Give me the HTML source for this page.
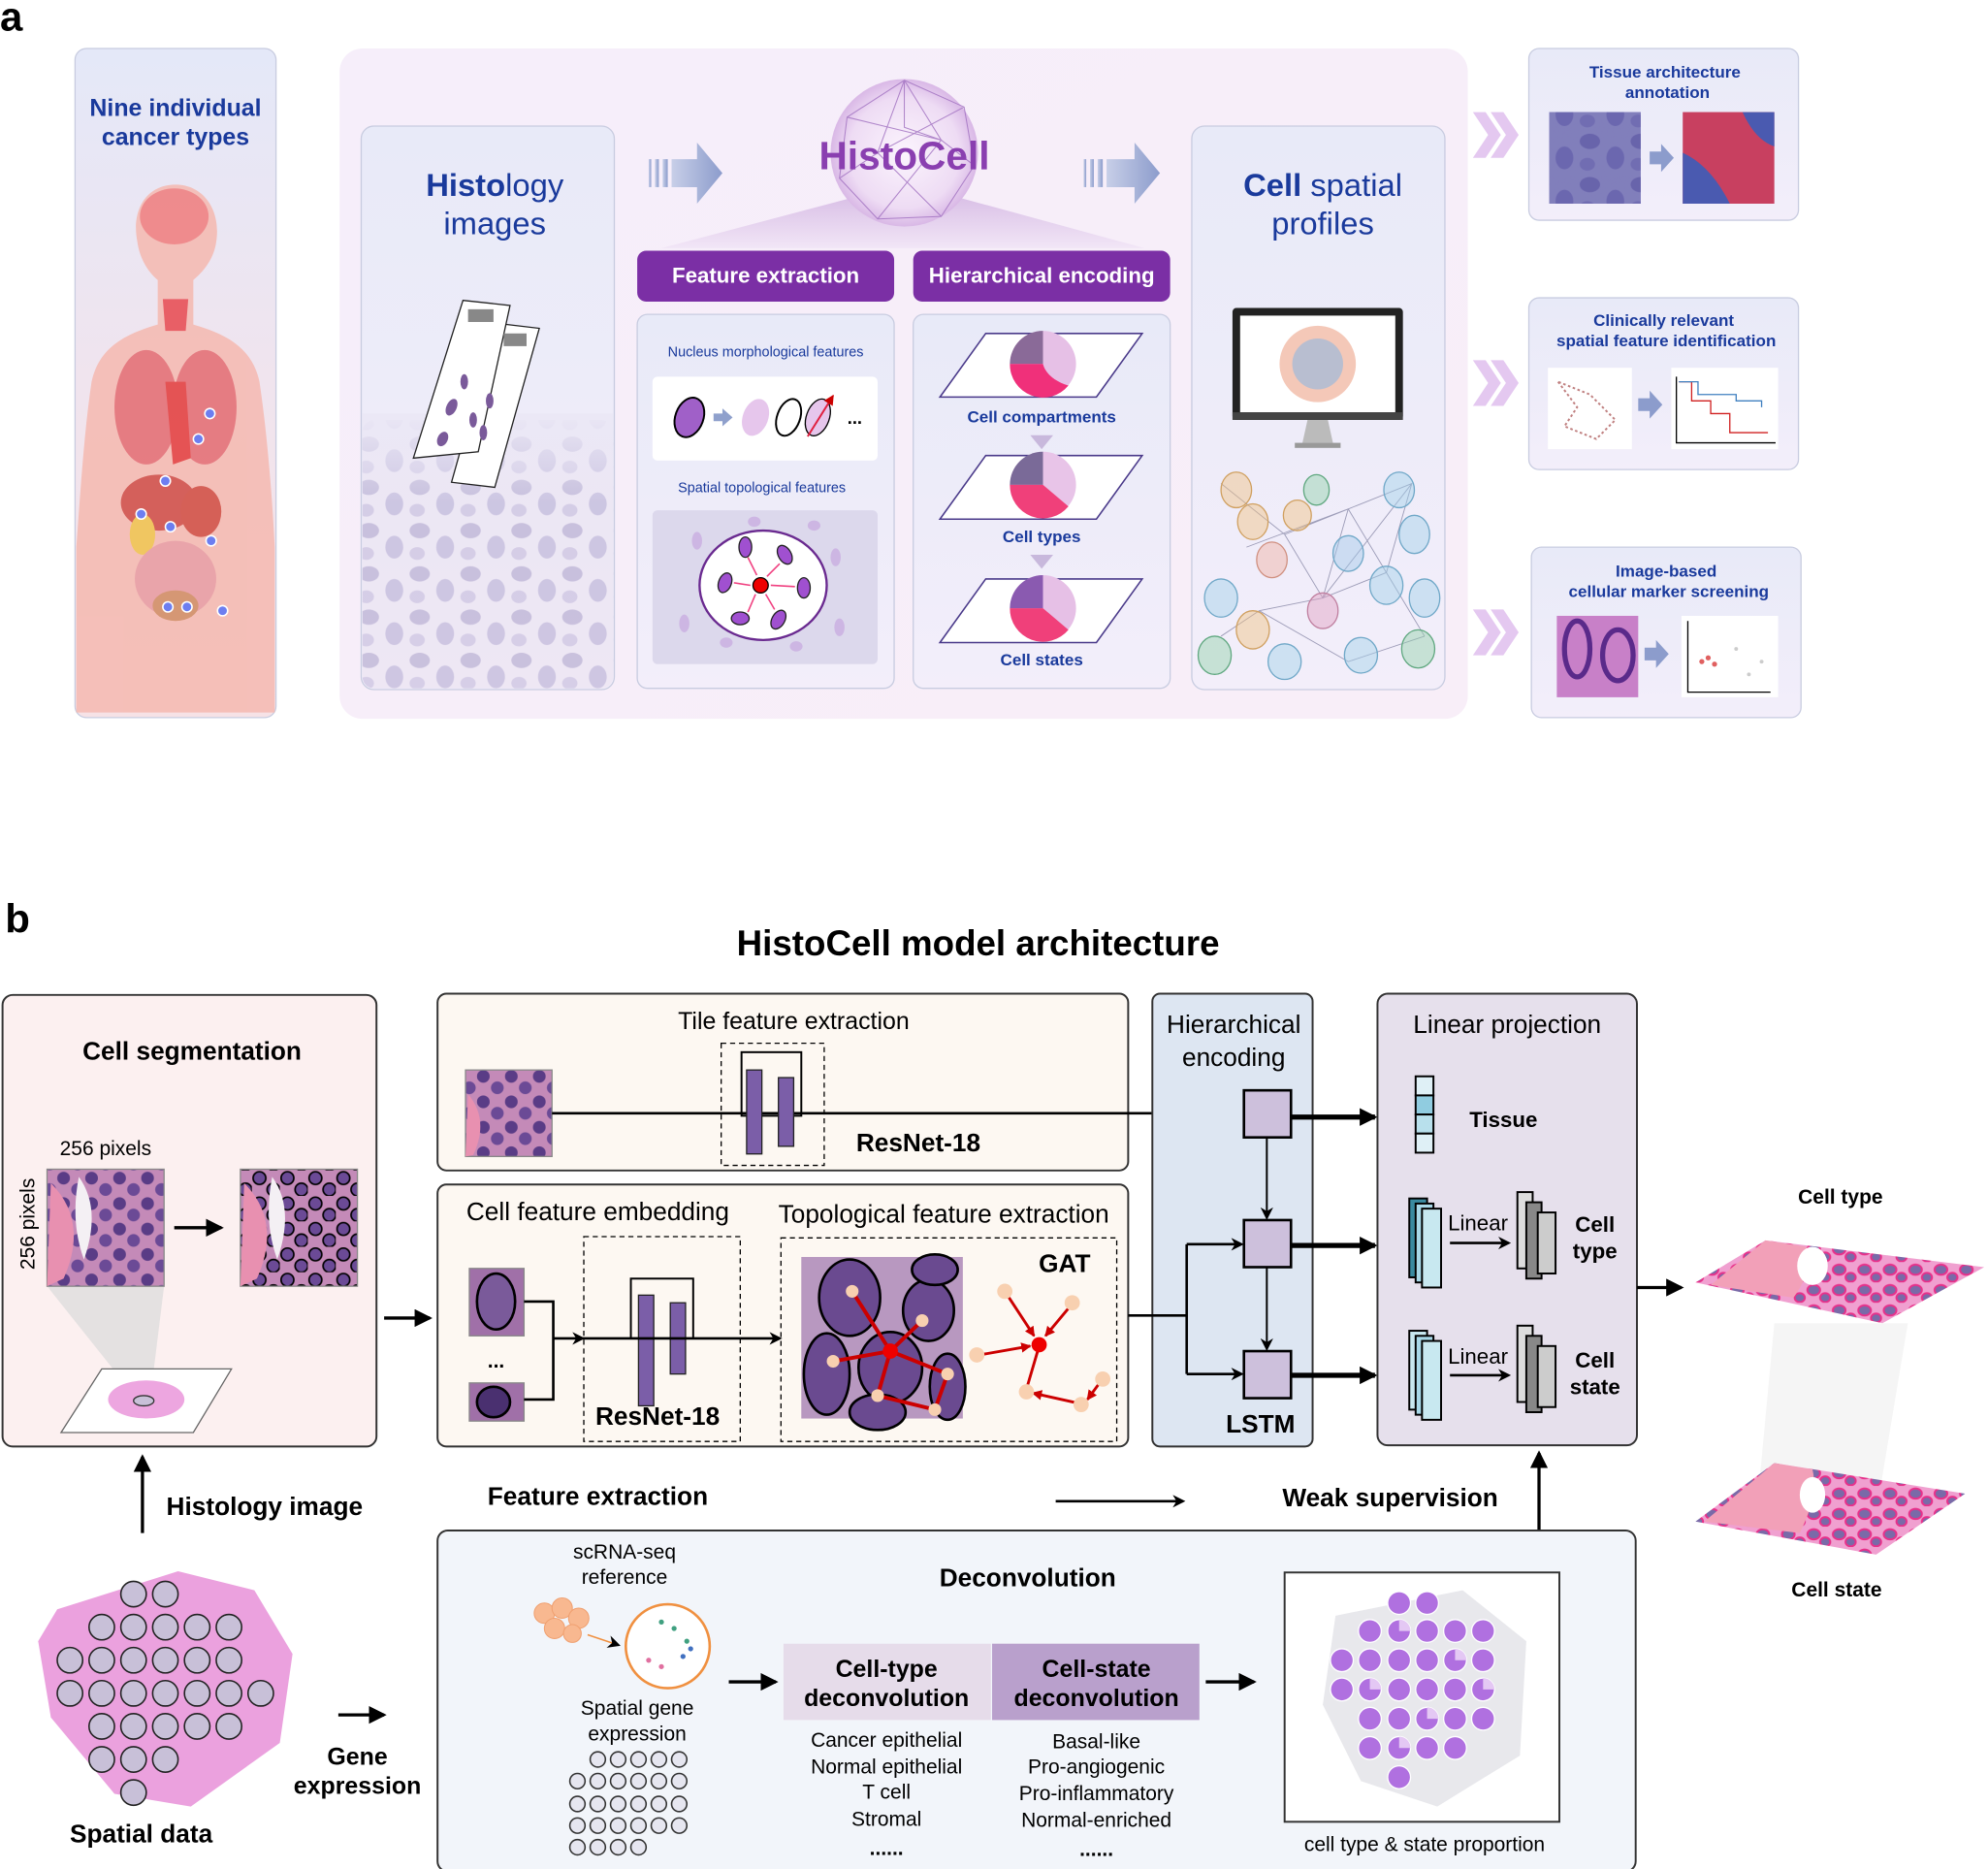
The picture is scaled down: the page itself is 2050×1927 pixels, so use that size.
<!DOCTYPE html>
<html><head><meta charset="utf-8"><style>
html,body{margin:0;padding:0;background:#fff;}
svg{display:block;font-family:"Liberation Sans",Arial,sans-serif;}
</style></head><body>
<svg width="2050" height="1927" viewBox="0 0 1563 1469" xmlns="http://www.w3.org/2000/svg">
<defs>
<linearGradient id="gBody" x1="0" y1="0" x2="0" y2="1"><stop offset="0" stop-color="#e4e8f8"/><stop offset="0.5" stop-color="#f0e4ee"/><stop offset="1" stop-color="#f6e2e6"/></linearGradient>
<linearGradient id="gBig" x1="0" y1="0" x2="1" y2="1"><stop offset="0" stop-color="#f6eefa"/><stop offset="1" stop-color="#f8eef8"/></linearGradient>
<linearGradient id="gCard" x1="0" y1="0" x2="0" y2="1"><stop offset="0" stop-color="#e8eaf8"/><stop offset="1" stop-color="#f3eefa"/></linearGradient>
<linearGradient id="gFade" x1="0" y1="0" x2="0" y2="1"><stop offset="0" stop-color="#ebe8f6" stop-opacity="1"/><stop offset="1" stop-color="#ebe8f6" stop-opacity="0"/></linearGradient>
<linearGradient id="gArrow" x1="0" y1="0" x2="1" y2="0"><stop offset="0" stop-color="#c8cfe8"/><stop offset="1" stop-color="#8c9ccc"/></linearGradient>
<radialGradient id="gSphere"><stop offset="0" stop-color="#fbf4fd"/><stop offset="0.75" stop-color="#eedcf4"/><stop offset="1" stop-color="#d9b8e6"/></radialGradient>
<linearGradient id="gTri" x1="0" y1="0" x2="0" y2="1"><stop offset="0" stop-color="#c9a6dc"/><stop offset="1" stop-color="#efe2f5"/></linearGradient>
<pattern id="pHist" width="40" height="34" patternUnits="userSpaceOnUse">
<rect width="40" height="34" fill="#e8e0ee"/>
<ellipse cx="10" cy="9" rx="8" ry="6" fill="#8d7fb4" opacity="0.8"/>
<ellipse cx="30" cy="22" rx="7" ry="9" fill="#9a8dc0" opacity="0.8"/>
<ellipse cx="8" cy="27" rx="6" ry="5" fill="#a597c8" opacity="0.7"/>
</pattern>
<pattern id="pHE" width="22" height="20" patternUnits="userSpaceOnUse">
<rect width="22" height="20" fill="#c48ab8"/>
<ellipse cx="6" cy="6" rx="5" ry="5" fill="#5a3c86"/>
<ellipse cx="17" cy="15" rx="5" ry="5" fill="#6b4a96"/>
</pattern>
<pattern id="pHEo" width="22" height="20" patternUnits="userSpaceOnUse">
<rect width="22" height="20" fill="#c48ab8"/>
<ellipse cx="6" cy="6" rx="5" ry="5" fill="#6b4a96" stroke="#000" stroke-width="1.3"/>
<ellipse cx="17" cy="15" rx="5" ry="5" fill="#6b4a96" stroke="#000" stroke-width="1.3"/>
</pattern>
<pattern id="pPink" width="20" height="16" patternUnits="userSpaceOnUse">
<rect width="20" height="16" fill="#f0a0d0"/>
<ellipse cx="6" cy="6" rx="5" ry="4" fill="#7a6aa8" stroke="#e8308a" stroke-width="1.5"/>
<ellipse cx="15" cy="12" rx="4" ry="3.5" fill="#7a6aa8" stroke="#e8308a" stroke-width="1.5"/>
</pattern>
<marker id="ah" markerWidth="10" markerHeight="10" refX="8" refY="5" orient="auto" markerUnits="userSpaceOnUse"><path d="M0,0 L10,5 L0,10 L3,5 Z" fill="#000"/></marker>
<marker id="ahb" markerWidth="14" markerHeight="14" refX="12" refY="7" orient="auto" markerUnits="userSpaceOnUse"><path d="M0,0 L14,7 L0,14 Z" fill="#000"/></marker>
<marker id="ahr" markerWidth="8" markerHeight="8" refX="7" refY="4" orient="auto" markerUnits="userSpaceOnUse"><path d="M0,0 L8,4 L0,8 Z" fill="#c00"/></marker>
</defs>

<!-- ========== PANEL A ========== -->
<text x="0" y="24" font-size="32" font-weight="bold">a</text>

<rect x="59" y="38" width="158" height="526" rx="9" fill="url(#gBody)" stroke="#c8cce0"/>
<text x="138" y="91" font-size="19" fill="#1a3a9c" text-anchor="middle" font-weight="bold">Nine individual</text>
<text x="138" y="114" font-size="19" fill="#1a3a9c" text-anchor="middle" font-weight="bold">cancer types</text>
<g opacity="0.85">
<path d="M138,145 C115,145 103,165 108,190 C110,205 118,215 124,220 L124,255 C100,262 78,272 72,300 C66,340 63,390 60,430 L60,560 L216,560 L216,430 C214,390 210,340 204,300 C198,272 176,262 152,255 L152,220 C158,215 168,205 170,190 C174,165 160,145 138,145 Z" fill="#f5b9b0"/>
<ellipse cx="137" cy="170" rx="27" ry="22" fill="#f07c7c"/>
<path d="M128,235 L148,235 L146,260 L130,260 Z" fill="#e8484e"/>
<ellipse cx="115" cy="320" rx="25" ry="45" fill="#e46a70"/>
<ellipse cx="161" cy="320" rx="25" ry="45" fill="#e46a70"/>
<path d="M130,300 L146,300 L150,360 L136,365 Z" fill="#e33a3a"/>
<ellipse cx="125" cy="395" rx="30" ry="22" fill="#cf4a42"/>
<ellipse cx="158" cy="402" rx="16" ry="20" fill="#d04a3e"/>
<ellipse cx="112" cy="420" rx="10" ry="16" fill="#f0c24a"/>
<ellipse cx="138" cy="455" rx="32" ry="30" fill="#e89aa0"/>
<ellipse cx="138" cy="476" rx="18" ry="12" fill="#d08a60"/>
</g>
<g fill="#6d7ef0" stroke="#fff" stroke-width="1.2">
<circle cx="165" cy="325" r="4"/><circle cx="156" cy="345" r="4"/><circle cx="130" cy="378" r="4"/><circle cx="111" cy="404" r="4"/><circle cx="134" cy="414" r="4"/><circle cx="166" cy="425" r="4"/><circle cx="132" cy="477" r="4"/><circle cx="147" cy="477" r="4"/><circle cx="175" cy="480" r="4"/>
</g>

<rect x="267" y="38" width="887" height="527" rx="18" fill="url(#gBig)"/>

<!-- histology box -->
<rect x="284" y="99" width="199" height="443" rx="10" fill="url(#gCard)" stroke="#c8cce0"/>
<rect x="285" y="330" width="197" height="211" rx="9" fill="url(#pHist)" opacity="0.5"/>
<rect x="285" y="325" width="197" height="70" fill="url(#gFade)"/>
<text x="389" y="154" font-size="25" fill="#1a3a9c" text-anchor="middle"><tspan font-weight="bold">Histo</tspan>logy</text>
<text x="389" y="184" font-size="25" fill="#1a3a9c" text-anchor="middle">images</text>
<g stroke="#222" stroke-width="1">
<path d="M390,254 L424,258 L389,383 L355,379 Z" fill="#fff"/>
<path d="M364,236 L401,240 L376,355 L325,360 Z" fill="#fff"/>
<rect x="368" y="243" width="20" height="10" fill="#888" stroke="none"/>
<rect x="396" y="262" width="18" height="10" fill="#888" stroke="none"/>
</g>
<g fill="#7a5a9a"><ellipse cx="355" cy="320" rx="4" ry="7" transform="rotate(25 355 320)"/><ellipse cx="365" cy="300" rx="3" ry="6"/><ellipse cx="348" cy="345" rx="4" ry="6" transform="rotate(25 348 345)"/><ellipse cx="372" cy="330" rx="3" ry="6"/><ellipse cx="385" cy="315" rx="3" ry="6"/><ellipse cx="380" cy="340" rx="3" ry="6"/></g>

<g fill="url(#gArrow)"><rect x="510" y="125" width="2" height="22"/><rect x="515" y="125" width="3" height="22"/><rect x="521" y="125" width="4" height="22"/><path d="M528,125 L548,125 L548,112 L568,136 L548,160 L548,147 L528,147 Z"/></g>
<g fill="url(#gArrow)"><rect x="852" y="125" width="2" height="22"/><rect x="857" y="125" width="3" height="22"/><rect x="863" y="125" width="4" height="22"/><path d="M870,125 L892,125 L892,112 L912,136 L892,160 L892,147 L870,147 Z"/></g>

<path d="M690,150 L520,195 L900,195 L735,150 Z" fill="url(#gTri)" opacity="0.7"/>
<circle cx="711" cy="120" r="58" fill="url(#gSphere)"/>
<g stroke="#a070c0" stroke-width="0.8" fill="none" opacity="0.8">
<path d="M711,63 L666,92 L660,140 L690,172 L740,170 L766,130 L758,84 Z"/>
<path d="M711,63 L690,120 L740,170 M666,92 L740,110 L690,172 M758,84 L690,120 L660,140 M711,63 L740,110 L766,130 M711,63 L711,100 L740,110"/>
</g>
<text x="711" y="133" font-size="31" font-weight="bold" fill="#8a3fb0" text-anchor="middle">HistoCell</text>

<rect x="501" y="197" width="202" height="40" rx="7" fill="#7b2fa5"/>
<text x="602" y="222" font-size="17" font-weight="bold" fill="#fff" text-anchor="middle">Feature extraction</text>
<rect x="718" y="197" width="202" height="40" rx="7" fill="#7b2fa5"/>
<text x="819" y="222" font-size="17" font-weight="bold" fill="#fff" text-anchor="middle">Hierarchical encoding</text>

<rect x="501" y="247" width="202" height="294" rx="8" fill="url(#gCard)" stroke="#c8cce0"/>
<text x="602" y="280" font-size="11" fill="#1a3a9c" text-anchor="middle">Nucleus morphological features</text>
<rect x="513" y="296" width="177" height="66" rx="4" fill="#fff"/>
<ellipse cx="542" cy="328" rx="11" ry="16" fill="#a060c8" stroke="#000" stroke-width="1.5" transform="rotate(20 542 328)"/>
<path d="M561,325 L568,325 L568,321 L576,328 L568,335 L568,331 L561,331 Z" fill="#8fa0cc"/>
<ellipse cx="594" cy="328" rx="10" ry="15" fill="#e6c6ec" transform="rotate(20 594 328)"/>
<ellipse cx="620" cy="328" rx="9" ry="15" fill="none" stroke="#000" stroke-width="1.5" transform="rotate(20 620 328)"/>
<ellipse cx="643" cy="328" rx="9" ry="15" fill="#e6c6ec" stroke="#000" stroke-width="1" transform="rotate(20 643 328)"/>
<line x1="635" y1="343" x2="655" y2="311" stroke="#e02040" stroke-width="1.5" marker-end="url(#ahr)"/>
<text x="672" y="333" font-size="14" font-weight="bold" text-anchor="middle">...</text>
<text x="599" y="387" font-size="11" fill="#1a3a9c" text-anchor="middle">Spatial topological features</text>
<rect x="513" y="401" width="177" height="121" rx="4" fill="#dcd8ec"/>
<ellipse cx="600" cy="460" rx="50" ry="43" fill="#fff" stroke="#6a2a90" stroke-width="1.8"/>
<g fill="#c8a8e0" opacity="0.7"><ellipse cx="548" cy="425" rx="4" ry="7"/><ellipse cx="657" cy="438" rx="4" ry="7"/><ellipse cx="538" cy="490" rx="4" ry="7"/><ellipse cx="660" cy="493" rx="4" ry="7"/><ellipse cx="571" cy="505" rx="5" ry="4"/><ellipse cx="626" cy="508" rx="5" ry="4"/><ellipse cx="593" cy="410" rx="5" ry="4"/><ellipse cx="640" cy="413" rx="5" ry="4"/></g>
<g fill="#a050d0" stroke="#222" stroke-width="1"><ellipse cx="586" cy="430" rx="5" ry="8"/><ellipse cx="617" cy="436" rx="5" ry="8" transform="rotate(-30 617 436)"/><ellipse cx="570" cy="458" rx="5" ry="8" transform="rotate(20 570 458)"/><ellipse cx="632" cy="462" rx="5" ry="8"/><ellipse cx="582" cy="486" rx="7" ry="5"/><ellipse cx="612" cy="487" rx="5" ry="8" transform="rotate(30 612 487)"/></g>
<circle cx="598" cy="460" r="6" fill="#e00" stroke="#000"/>
<g stroke="#f04080" stroke-width="1.2"><line x1="588" y1="438" x2="595" y2="452"/><line x1="613" y1="443" x2="603" y2="453"/><line x1="577" y1="458" x2="590" y2="460"/><line x1="625" y1="461" x2="606" y2="460"/><line x1="588" y1="481" x2="594" y2="467"/><line x1="609" y1="479" x2="602" y2="467"/></g>

<rect x="718" y="247" width="202" height="294" rx="8" fill="url(#gCard)" stroke="#c8cce0"/>
<g fill="#fff" stroke="#4a3a8a" stroke-width="1.2">
<path d="M775,262 L898,262 L862,312 L739,312 Z"/>
<path d="M775,358 L898,358 L862,408 L739,408 Z"/>
<path d="M775,455 L898,455 L862,505 L739,505 Z"/>
</g>
<circle cx="820" cy="286" r="26" fill="#e6c0e6"/>
<path d="M820,260 A26,26 0 0 0 794,286 L820,286 Z" fill="#8a6a98"/>
<path d="M794,286 A26,26 0 0 0 840,303 C830,300 822,294 820,286 Z" fill="#f0307a"/>
<circle cx="820" cy="381" r="26" fill="#e8c4e8"/>
<path d="M820,355 A26,26 0 0 0 794,381 L820,381 Z" fill="#7a6a98"/>
<path d="M794,381 A26,26 0 0 0 840,398 L820,381 Z" fill="#f0407a"/>
<circle cx="820" cy="478" r="26" fill="#e6c0e6"/>
<path d="M820,452 A26,26 0 0 0 794,478 L820,478 Z" fill="#8a5ab0"/>
<path d="M794,478 A26,26 0 0 0 840,495 L820,478 Z" fill="#f0407a"/>
<text x="819" y="332" font-size="13" fill="#1a3a9c" text-anchor="middle" font-weight="bold">Cell compartments</text>
<path d="M810,342 L828,342 L819,353 Z" fill="#c8b8dc"/>
<text x="819" y="426" font-size="13" fill="#1a3a9c" text-anchor="middle" font-weight="bold">Cell types</text>
<path d="M810,436 L828,436 L819,447 Z" fill="#c8b8dc"/>
<text x="819" y="523" font-size="13" fill="#1a3a9c" text-anchor="middle" font-weight="bold">Cell states</text>

<rect x="937" y="99" width="199" height="443" rx="10" fill="url(#gCard)" stroke="#c8cce0"/>
<text x="1040" y="154" font-size="25" fill="#1a3a9c" text-anchor="middle"><tspan font-weight="bold">Cell</tspan> spatial</text>
<text x="1040" y="184" font-size="25" fill="#1a3a9c" text-anchor="middle">profiles</text>
<rect x="969" y="242" width="134" height="88" rx="3" fill="#222"/>
<rect x="975" y="248" width="122" height="76" fill="#fff"/>
<circle cx="1036" cy="286" r="30" fill="#f4c8b8"/>
<circle cx="1036" cy="286" r="20" fill="#90b8e0" opacity="0.6"/>
<rect x="969" y="324" width="134" height="6" fill="#444"/>
<path d="M1028,330 L1044,330 L1048,348 L1024,348 Z" fill="#bbb"/>
<rect x="1018" y="348" width="36" height="4" fill="#999"/>
<g stroke="#8888a8" stroke-width="0.7" opacity="0.8" fill="none">
<path d="M960,380 L1010,420 L1060,400 L1110,380 L1090,450 L1040,470 L990,480 L960,500 M1010,420 L1040,470 L1110,380 M1060,400 L1090,450 L1120,500 M990,480 L1060,520 L1120,500 M980,430 L1060,400 L1040,470"/>
</g>
<g fill-opacity="0.45" stroke-width="1">
<ellipse cx="972" cy="385" rx="12" ry="14" fill="#f0c080" stroke="#d0a060"/>
<ellipse cx="985" cy="410" rx="12" ry="14" fill="#f0c080" stroke="#d0a060"/>
<ellipse cx="1000" cy="440" rx="12" ry="14" fill="#f0b0a0" stroke="#d09080"/>
<ellipse cx="1035" cy="385" rx="10" ry="12" fill="#90d0a8" stroke="#60a880"/>
<ellipse cx="1100" cy="385" rx="12" ry="14" fill="#a0d0e8" stroke="#70a8c8"/>
<ellipse cx="1112" cy="420" rx="12" ry="15" fill="#a0d0e8" stroke="#70a8c8"/>
<ellipse cx="1090" cy="460" rx="13" ry="15" fill="#a0d0e8" stroke="#70a8c8"/>
<ellipse cx="1060" cy="435" rx="12" ry="14" fill="#a0c8e8" stroke="#70a8c8"/>
<ellipse cx="1040" cy="480" rx="12" ry="14" fill="#e0a0c0" stroke="#c080a0"/>
<ellipse cx="960" cy="470" rx="13" ry="15" fill="#a0d0e8" stroke="#70a8c8"/>
<ellipse cx="985" cy="495" rx="13" ry="15" fill="#f0c080" stroke="#d0a060"/>
<ellipse cx="955" cy="515" rx="13" ry="15" fill="#90d0a8" stroke="#60a880"/>
<ellipse cx="1010" cy="520" rx="13" ry="14" fill="#a0d0e8" stroke="#70a8c8"/>
<ellipse cx="1070" cy="515" rx="13" ry="14" fill="#a0d0e8" stroke="#70a8c8"/>
<ellipse cx="1115" cy="510" rx="13" ry="15" fill="#90d0a8" stroke="#60a880"/>
<ellipse cx="1120" cy="470" rx="12" ry="15" fill="#a0d0e8" stroke="#70a8c8"/>
<ellipse cx="1020" cy="405" rx="11" ry="12" fill="#f0c080" stroke="#d0a060"/>
</g>

<g fill="#e4c8f0">
<path d="M1158,88 L1168,88 L1180,106 L1168,124 L1158,124 L1170,106 Z"/><path d="M1172,88 L1182,88 L1194,106 L1182,124 L1172,124 L1184,106 Z"/>
<path d="M1158,283 L1168,283 L1180,301 L1168,319 L1158,319 L1170,301 Z"/><path d="M1172,283 L1182,283 L1194,301 L1182,319 L1172,319 L1184,301 Z"/>
<path d="M1158,479 L1168,479 L1180,497 L1168,515 L1158,515 L1170,497 Z"/><path d="M1172,479 L1182,479 L1194,497 L1182,515 L1172,515 L1184,497 Z"/>
</g>

<rect x="1202" y="38" width="212" height="135" rx="8" fill="url(#gCard)" stroke="#c8cce0"/>
<text x="1309" y="61" font-size="13" fill="#1a3a9c" text-anchor="middle" font-weight="bold">Tissue architecture</text>
<text x="1311" y="77" font-size="13" fill="#1a3a9c" text-anchor="middle" font-weight="bold">annotation</text>
<rect x="1218" y="88" width="72" height="72" fill="#4a4aa0"/>
<rect x="1218" y="88" width="72" height="72" fill="url(#pHist)" opacity="0.35"/>
<path d="M1297,119 L1306,119 L1306,113 L1316,124 L1306,135 L1306,129 L1297,129 Z" fill="#8c9ccc"/>
<rect x="1323" y="88" width="72" height="72" fill="#c84060"/>
<path d="M1323,120 Q1345,130 1360,160 L1323,160 Z M1370,88 Q1380,110 1395,115 L1395,88 Z" fill="#4a5ab0"/>
<rect x="1202" y="234" width="212" height="135" rx="8" fill="url(#gCard)" stroke="#c8cce0"/>
<text x="1308" y="256" font-size="13" fill="#1a3a9c" text-anchor="middle" font-weight="bold">Clinically relevant</text>
<text x="1310" y="272" font-size="13" fill="#1a3a9c" text-anchor="middle" font-weight="bold">spatial feature identification</text>
<rect x="1217" y="289" width="66" height="64" fill="#fff"/>
<path d="M1225,300 L1240,320 L1230,335 L1255,345 L1270,330 L1250,310 Z" fill="none" stroke="#c08080" stroke-width="1.5" stroke-dasharray="2 2"/>
<path d="M1288,313 L1297,313 L1297,307 L1307,318 L1297,329 L1297,323 L1288,323 Z" fill="#8c9ccc"/>
<rect x="1314" y="289" width="84" height="64" fill="#fff"/>
<path d="M1318,296 L1318,348 L1396,348" stroke="#000" fill="none"/>
<path d="M1320,300 L1330,300 L1330,315 L1345,315 L1345,325 L1360,325 L1360,340 L1390,340" stroke="#d02020" fill="none"/>
<path d="M1320,300 L1335,300 L1335,310 L1365,310 L1365,315 L1385,315 L1385,320" stroke="#4080c0" fill="none"/>
<rect x="1204" y="430" width="212" height="134" rx="8" fill="url(#gCard)" stroke="#c8cce0"/>
<text x="1310" y="453" font-size="13" fill="#1a3a9c" text-anchor="middle" font-weight="bold">Image-based</text>
<text x="1312" y="469" font-size="13" fill="#1a3a9c" text-anchor="middle" font-weight="bold">cellular marker screening</text>
<rect x="1224" y="484" width="64" height="64" fill="#c880c8"/>
<ellipse cx="1240" cy="510" rx="10" ry="22" fill="none" stroke="#5a2a8a" stroke-width="4"/>
<ellipse cx="1272" cy="515" rx="12" ry="20" fill="none" stroke="#5a2a8a" stroke-width="4"/>
<path d="M1293,509 L1302,509 L1302,503 L1312,514 L1302,525 L1302,519 L1293,519 Z" fill="#8c9ccc"/>
<rect x="1322" y="484" width="76" height="64" fill="#fff"/>
<path d="M1327,488 L1327,544 L1392,544" stroke="#000" fill="none"/>
<g fill="#e06060"><circle cx="1338" cy="520" r="2"/><circle cx="1343" cy="517" r="2"/><circle cx="1348" cy="522" r="2"/></g>
<g fill="#ccc"><circle cx="1365" cy="510" r="1.5"/><circle cx="1375" cy="530" r="1.5"/><circle cx="1385" cy="520" r="1.5"/></g>

<!-- ========== PANEL B ========== -->
<text x="4" y="733" font-size="32" font-weight="bold">b</text>
<text x="769" y="751" font-size="28" font-weight="bold" text-anchor="middle">HistoCell model architecture</text>

<rect x="2" y="782" width="294" height="355" rx="8" fill="#fcf0f0" stroke="#333" stroke-width="1.5"/>
<text x="151" y="833" font-size="20" font-weight="bold" text-anchor="middle">Cell segmentation</text>
<text x="83" y="908" font-size="16" text-anchor="middle">256 pixels</text>
<text x="27" y="962" font-size="16" text-anchor="middle" transform="rotate(-90 27 962)">256 pixels</text>
<path d="M37,1011 L129,1011 L118,1100 L108,1100 Z" fill="#ddd" opacity="0.8"/>
<rect x="37" y="919" width="92" height="92" fill="url(#pHE)" stroke="#888"/>
<path d="M40,930 Q70,960 50,1005 L37,1011 Z" fill="#e890b0"/>
<path d="M62,925 Q80,950 66,990 Q55,960 62,925 Z" fill="#f4f0f4"/>
<line x1="137" y1="965" x2="174" y2="965" stroke="#000" stroke-width="2.5" marker-end="url(#ahb)"/>
<rect x="189" y="919" width="92" height="92" fill="url(#pHEo)" stroke="#888"/>
<path d="M192,930 Q222,960 202,1005 L189,1011 Z" fill="#e890b0"/>
<path d="M214,925 Q232,950 218,990 Q207,960 214,925 Z" fill="#f4f0f4"/>
<path d="M80,1076 L182,1076 L152,1126 L48,1126 Z" fill="#fff" stroke="#666"/>
<ellipse cx="115" cy="1100" rx="30" ry="15" fill="#e890d8" opacity="0.8"/>
<ellipse cx="113" cy="1101" rx="8" ry="4" fill="#c8c0d8" stroke="#333"/>

<line x1="302" y1="1036" x2="338" y2="1036" stroke="#000" stroke-width="2.5" marker-end="url(#ahb)"/>

<rect x="344" y="781" width="543" height="139" rx="7" fill="#fdf8f2" stroke="#333" stroke-width="1.5"/>
<text x="624" y="809" font-size="19" text-anchor="middle">Tile feature extraction</text>
<rect x="366" y="841" width="68" height="68" fill="url(#pHE)" stroke="#888"/>
<path d="M368,860 Q385,880 372,908 L366,909 Z" fill="#e890b0"/>
<line x1="434" y1="875" x2="976" y2="875" stroke="#000" stroke-width="2" marker-end="url(#ah)"/>
<rect x="567" y="820" width="81" height="96" fill="none" stroke="#000" stroke-dasharray="4 3"/>
<rect x="583" y="827" width="47" height="50" fill="none" stroke="#000" stroke-width="1.5"/>
<rect x="587" y="841" width="12" height="66" fill="#7b5ea8" stroke="#222"/>
<rect x="612" y="847" width="12" height="54" fill="#7b5ea8" stroke="#222"/>
<text x="722" y="905" font-size="20" font-weight="bold" text-anchor="middle">ResNet-18</text>

<rect x="344" y="931" width="543" height="206" rx="7" fill="#fdf8f2" stroke="#333" stroke-width="1.5"/>
<text x="470" y="959" font-size="20" text-anchor="middle">Cell feature embedding</text>
<text x="742" y="961" font-size="20" text-anchor="middle">Topological feature extraction</text>
<rect x="369" y="997" width="43" height="53" fill="#a070a8" stroke="#888"/>
<ellipse cx="390" cy="1023" rx="15" ry="22" fill="#7a5a9a" stroke="#000" stroke-width="2"/>
<text x="390" y="1075" font-size="16" font-weight="bold" text-anchor="middle">...</text>
<rect x="369" y="1087" width="43" height="30" fill="#a070a8" stroke="#888"/>
<ellipse cx="388" cy="1102" rx="13" ry="12" fill="#4a3070" stroke="#000" stroke-width="2"/>
<path d="M412,1023 L435,1023 L435,1100 L412,1100" stroke="#000" stroke-width="2" fill="none"/>
<line x1="435" y1="1052" x2="458" y2="1052" stroke="#000" stroke-width="2" marker-end="url(#ah)"/>
<rect x="459" y="972" width="123" height="161" fill="none" stroke="#000" stroke-dasharray="4 3"/>
<rect x="496" y="1005" width="49" height="47" fill="none" stroke="#000" stroke-width="1.5"/>
<rect x="502" y="1018" width="12" height="87" fill="#7b5ea8" stroke="#222"/>
<rect x="527" y="1024" width="12" height="56" fill="#7b5ea8" stroke="#222"/>
<line x1="458" y1="1052" x2="613" y2="1052" stroke="#000" stroke-width="2" marker-end="url(#ah)"/>
<text x="517" y="1120" font-size="20" font-weight="bold" text-anchor="middle">ResNet-18</text>
<rect x="614" y="973" width="264" height="160" fill="none" stroke="#000" stroke-dasharray="4 3"/>
<rect x="630" y="988" width="127" height="127" fill="#b898c0"/>
<g fill="#6a4a90" stroke="#000" stroke-width="2">
<ellipse cx="668" cy="1020" rx="24" ry="30"/><ellipse cx="730" cy="1030" rx="20" ry="24"/><ellipse cx="650" cy="1080" rx="18" ry="32"/><ellipse cx="700" cy="1075" rx="25" ry="28"/><ellipse cx="745" cy="1090" rx="14" ry="26"/><ellipse cx="690" cy="1110" rx="22" ry="14"/><ellipse cx="735" cy="998" rx="18" ry="12"/>
</g>
<g stroke="#c00" stroke-width="3"><line x1="700" y1="1062" x2="670" y2="1015"/><line x1="700" y1="1062" x2="725" y2="1038"/><line x1="700" y1="1062" x2="655" y2="1070"/><line x1="700" y1="1062" x2="745" y2="1080"/><line x1="700" y1="1062" x2="690" y2="1097"/><line x1="690" y1="1097" x2="735" y2="1108"/><line x1="735" y1="1108" x2="745" y2="1080"/></g>
<circle cx="700" cy="1062" r="6" fill="#e00"/>
<g fill="#f8d0b0"><circle cx="670" cy="1015" r="5"/><circle cx="725" cy="1038" r="5"/><circle cx="655" cy="1070" r="5"/><circle cx="745" cy="1080" r="5"/><circle cx="690" cy="1097" r="5"/><circle cx="735" cy="1108" r="5"/></g>
<text x="837" y="1000" font-size="20" font-weight="bold" text-anchor="middle">GAT</text>
<g stroke="#c00" stroke-width="2.2"><line x1="792" y1="1018" x2="813" y2="1050" marker-end="url(#ahr)"/><line x1="842" y1="1026" x2="822" y2="1050" marker-end="url(#ahr)"/><line x1="770" y1="1065" x2="810" y2="1058" marker-end="url(#ahr)"/><line x1="817" y1="1058" x2="807" y2="1092"/><line x1="848" y1="1103" x2="812" y2="1095" marker-end="url(#ahr)"/><line x1="866" y1="1085" x2="855" y2="1100" marker-end="url(#ahr)"/></g>
<circle cx="817" cy="1057" r="6" fill="#e00"/>
<g fill="#f8d0b0"><circle cx="790" cy="1015" r="6"/><circle cx="843" cy="1024" r="6"/><circle cx="768" cy="1065" r="6"/><circle cx="807" cy="1094" r="6"/><circle cx="850" cy="1104" r="6"/><circle cx="867" cy="1084" r="6"/></g>

<rect x="906" y="781" width="126" height="356" rx="6" fill="#dde6f2" stroke="#333" stroke-width="1.5"/>
<text x="970" y="812" font-size="20" text-anchor="middle">Hierarchical</text>
<text x="970" y="838" font-size="20" text-anchor="middle">encoding</text>
<rect x="978" y="857" width="37" height="37" fill="#cdc0dc" stroke="#000" stroke-width="2"/>
<rect x="978" y="959" width="37" height="37" fill="#cdc0dc" stroke="#000" stroke-width="2"/>
<rect x="978" y="1062" width="37" height="37" fill="#cdc0dc" stroke="#000" stroke-width="2"/>
<line x1="996" y1="894" x2="996" y2="957" stroke="#000" stroke-width="1.5" marker-end="url(#ah)"/>
<line x1="996" y1="996" x2="996" y2="1060" stroke="#000" stroke-width="1.5" marker-end="url(#ah)"/>
<path d="M887,1034 L933,1034 M933,978 L933,1080" stroke="#000" stroke-width="2" fill="none"/>
<line x1="933" y1="978" x2="976" y2="978" stroke="#000" stroke-width="2" marker-end="url(#ah)"/>
<line x1="933" y1="1080" x2="976" y2="1080" stroke="#000" stroke-width="2" marker-end="url(#ah)"/>
<text x="991" y="1126" font-size="20" font-weight="bold" text-anchor="middle">LSTM</text>
<line x1="1015" y1="878" x2="1081" y2="878" stroke="#000" stroke-width="4" marker-end="url(#ahb)"/>
<line x1="1015" y1="979" x2="1081" y2="979" stroke="#000" stroke-width="4" marker-end="url(#ahb)"/>
<line x1="1015" y1="1081" x2="1081" y2="1081" stroke="#000" stroke-width="4" marker-end="url(#ahb)"/>

<rect x="1083" y="781" width="204" height="355" rx="8" fill="#e6e0ec" stroke="#333" stroke-width="1.5"/>
<text x="1185" y="812" font-size="20" text-anchor="middle">Linear projection</text>
<g stroke="#000" stroke-width="1.5"><rect x="1113" y="846" width="14" height="15" fill="#dff0f6"/><rect x="1113" y="861" width="14" height="15" fill="#90cce0"/><rect x="1113" y="876" width="14" height="15" fill="#b8e0ec"/><rect x="1113" y="891" width="14" height="15" fill="#dff0f6"/></g>
<text x="1182" y="886" font-size="17" font-weight="bold" text-anchor="middle">Tissue</text>
<g stroke="#000" stroke-width="1.5">
<rect x="1108" y="942" width="14" height="62" fill="#3a8aa0"/><rect x="1113" y="946" width="14" height="62" fill="#a8d8e8"/><rect x="1118" y="950" width="15" height="62" fill="#c8e8f0"/>
<rect x="1108" y="1046" width="14" height="62" fill="#c8e8f0"/><rect x="1113" y="1050" width="14" height="62" fill="#a8d8e8"/><rect x="1118" y="1054" width="15" height="62" fill="#c8e8f0"/>
<rect x="1193" y="937" width="12" height="60" fill="#ddd"/><rect x="1200" y="945" width="12" height="60" fill="#888"/><rect x="1209" y="953" width="14" height="48" fill="#ccc"/>
<rect x="1193" y="1042" width="12" height="60" fill="#ddd"/><rect x="1200" y="1050" width="12" height="60" fill="#888"/><rect x="1209" y="1058" width="14" height="48" fill="#ccc"/>
</g>
<text x="1162" y="967" font-size="17" text-anchor="middle">Linear</text>
<text x="1162" y="1072" font-size="17" text-anchor="middle">Linear</text>
<line x1="1140" y1="977" x2="1186" y2="977" stroke="#000" stroke-width="2" marker-end="url(#ah)"/>
<line x1="1140" y1="1081" x2="1186" y2="1081" stroke="#000" stroke-width="2" marker-end="url(#ah)"/>
<text x="1254" y="968" font-size="17" font-weight="bold" text-anchor="middle">Cell</text>
<text x="1254" y="989" font-size="17" font-weight="bold" text-anchor="middle">type</text>
<text x="1254" y="1075" font-size="17" font-weight="bold" text-anchor="middle">Cell</text>
<text x="1254" y="1096" font-size="17" font-weight="bold" text-anchor="middle">state</text>
<line x1="1287" y1="1012" x2="1322" y2="1012" stroke="#000" stroke-width="2.5" marker-end="url(#ahb)"/>

<text x="1447" y="946" font-size="16" font-weight="bold" text-anchor="middle">Cell type</text>
<path d="M1395,1040 L1500,1040 L1470,1220 L1380,1200 Z" fill="#eee" opacity="0.6"/>
<path d="M1388,975 L1560,996 L1480,1040 L1333,1008 Z" fill="url(#pPink)"/>
<path d="M1388,975 L1420,980 Q1425,1000 1410,1020 L1345,1010 Z" fill="#f2a0b8"/>
<ellipse cx="1425" cy="995" rx="12" ry="15" fill="#fff"/>
<path d="M1395,1150 L1545,1174 L1475,1222 L1333,1196 Z" fill="url(#pPink)"/>
<path d="M1395,1150 L1425,1155 Q1430,1175 1415,1205 L1340,1196 Z" fill="#f2a0b8"/>
<ellipse cx="1425" cy="1175" rx="10" ry="14" fill="#fff"/>
<text x="1444" y="1255" font-size="16" font-weight="bold" text-anchor="middle">Cell state</text>

<line x1="112" y1="1205" x2="112" y2="1145" stroke="#000" stroke-width="2.5" marker-end="url(#ahb)"/>
<text x="208" y="1191" font-size="20" font-weight="bold" text-anchor="middle">Histology image</text>
<text x="470" y="1183" font-size="20" font-weight="bold" text-anchor="middle">Feature extraction</text>
<line x1="830" y1="1180" x2="930" y2="1180" stroke="#000" stroke-width="2" marker-end="url(#ah)"/>
<text x="1093" y="1184" font-size="20" font-weight="bold" text-anchor="middle">Weak supervision</text>
<line x1="1210" y1="1203" x2="1210" y2="1142" stroke="#000" stroke-width="2.5" marker-end="url(#ahb)"/>

<rect x="344" y="1203" width="942" height="268" rx="8" fill="#f2f5fa" stroke="#333" stroke-width="1.5"/>
<text x="808" y="1247" font-size="20" font-weight="bold" text-anchor="middle">Deconvolution</text>
<text x="491" y="1225" font-size="16" text-anchor="middle">scRNA-seq</text>
<text x="491" y="1245" font-size="16" text-anchor="middle">reference</text>
<g fill="#f8b890" stroke="#f0a070" stroke-width="0.8"><circle cx="428" cy="1268" r="8"/><circle cx="442" cy="1264" r="8"/><circle cx="455" cy="1272" r="8"/><circle cx="436" cy="1280" r="8"/><circle cx="450" cy="1284" r="7"/></g>
<line x1="462" y1="1285" x2="486" y2="1293" stroke="#f09040" stroke-width="1.2" marker-end="url(#ah)"/>
<circle cx="525" cy="1294" r="33" fill="#fff" stroke="#f09040" stroke-width="2"/>
<g fill="#40a080"><circle cx="520" cy="1275" r="2"/><circle cx="530" cy="1280" r="2"/><circle cx="540" cy="1290" r="2"/></g>
<g fill="#4070c0"><circle cx="543" cy="1296" r="2"/><circle cx="537" cy="1302" r="2"/></g>
<g fill="#e070a0"><circle cx="510" cy="1305" r="2"/><circle cx="520" cy="1310" r="2"/></g>
<text x="501" y="1348" font-size="16" text-anchor="middle">Spatial gene</text>
<text x="501" y="1368" font-size="16" text-anchor="middle">expression</text>
<g fill="#e6e6f0" stroke="#333" stroke-width="1.2">
<circle cx="470" cy="1383" r="6"/><circle cx="486" cy="1383" r="6"/><circle cx="502" cy="1383" r="6"/><circle cx="518" cy="1383" r="6"/><circle cx="534" cy="1383" r="6"/>
<circle cx="454" cy="1400" r="6"/><circle cx="470" cy="1400" r="6"/><circle cx="486" cy="1400" r="6"/><circle cx="502" cy="1400" r="6"/><circle cx="518" cy="1400" r="6"/><circle cx="534" cy="1400" r="6"/>
<circle cx="454" cy="1418" r="6"/><circle cx="470" cy="1418" r="6"/><circle cx="486" cy="1418" r="6"/><circle cx="502" cy="1418" r="6"/><circle cx="518" cy="1418" r="6"/><circle cx="534" cy="1418" r="6"/>
<circle cx="454" cy="1435" r="6"/><circle cx="470" cy="1435" r="6"/><circle cx="486" cy="1435" r="6"/><circle cx="502" cy="1435" r="6"/><circle cx="518" cy="1435" r="6"/><circle cx="534" cy="1435" r="6"/>
<circle cx="454" cy="1452" r="6"/><circle cx="470" cy="1452" r="6"/><circle cx="486" cy="1452" r="6"/><circle cx="502" cy="1452" r="6"/>
</g>
<line x1="573" y1="1322" x2="610" y2="1322" stroke="#000" stroke-width="2.5" marker-end="url(#ahb)"/>
<rect x="616" y="1292" width="163" height="60" fill="#e6dcea"/>
<rect x="780" y="1292" width="163" height="60" fill="#b9a0cc"/>
<text x="697" y="1318" font-size="19" font-weight="bold" text-anchor="middle">Cell-type</text>
<text x="697" y="1341" font-size="19" font-weight="bold" text-anchor="middle">deconvolution</text>
<text x="862" y="1318" font-size="19" font-weight="bold" text-anchor="middle">Cell-state</text>
<text x="862" y="1341" font-size="19" font-weight="bold" text-anchor="middle">deconvolution</text>
<g font-size="16" text-anchor="middle">
<text x="697" y="1373">Cancer epithelial</text><text x="697" y="1394">Normal epithelial</text><text x="697" y="1414">T cell</text><text x="697" y="1435">Stromal</text><text x="697" y="1458" font-weight="bold">......</text>
<text x="862" y="1374">Basal-like</text><text x="862" y="1394">Pro-angiogenic</text><text x="862" y="1415">Pro-inflammatory</text><text x="862" y="1436">Normal-enriched</text><text x="862" y="1459" font-weight="bold">......</text>
</g>
<line x1="948" y1="1322" x2="986" y2="1322" stroke="#000" stroke-width="2.5" marker-end="url(#ahb)"/>
<rect x="1010" y="1236" width="216" height="196" fill="#fff" stroke="#333" stroke-width="1.5"/>
<path d="M1050,1270 L1150,1250 L1200,1290 L1195,1380 L1130,1420 L1070,1400 L1040,1340 Z" fill="#e8e8ec"/>
<g fill="#b070e0" stroke="#fff" stroke-width="1">
<circle cx="1100" cy="1260" r="9"/><circle cx="1122" cy="1260" r="9"/>
<circle cx="1077" cy="1282" r="9"/><circle cx="1100" cy="1282" r="9"/><circle cx="1122" cy="1282" r="9"/><circle cx="1144" cy="1282" r="9"/><circle cx="1166" cy="1282" r="9"/>
<circle cx="1055" cy="1305" r="9"/><circle cx="1077" cy="1305" r="9"/><circle cx="1100" cy="1305" r="9"/><circle cx="1122" cy="1305" r="9"/><circle cx="1144" cy="1305" r="9"/><circle cx="1166" cy="1305" r="9"/>
<circle cx="1055" cy="1328" r="9"/><circle cx="1077" cy="1328" r="9"/><circle cx="1100" cy="1328" r="9"/><circle cx="1122" cy="1328" r="9"/><circle cx="1144" cy="1328" r="9"/><circle cx="1166" cy="1328" r="9"/>
<circle cx="1077" cy="1351" r="9"/><circle cx="1100" cy="1351" r="9"/><circle cx="1122" cy="1351" r="9"/><circle cx="1144" cy="1351" r="9"/><circle cx="1166" cy="1351" r="9"/>
<circle cx="1077" cy="1374" r="9"/><circle cx="1100" cy="1374" r="9"/><circle cx="1122" cy="1374" r="9"/><circle cx="1144" cy="1374" r="9"/>
<circle cx="1100" cy="1397" r="9"/>
</g>
<g fill="#e4c8f4"><path d="M1100,1282 L1100,1273 A9,9 0 0 1 1109,1282 Z"/><path d="M1144,1305 L1144,1296 A9,9 0 0 1 1153,1305 Z"/><path d="M1077,1328 L1077,1319 A9,9 0 0 1 1086,1328 Z"/><path d="M1122,1351 L1122,1342 A9,9 0 0 1 1131,1351 Z"/><path d="M1166,1328 L1166,1319 A9,9 0 0 1 1175,1328 Z"/><path d="M1100,1374 L1100,1365 A9,9 0 0 1 1109,1374 Z"/></g>
<text x="1120" y="1455" font-size="16" text-anchor="middle">cell type &amp; state proportion</text>

<path d="M45,1265 L140,1235 L200,1250 L230,1300 L220,1370 L150,1420 L90,1410 L40,1350 L30,1290 Z" fill="#e890d8" opacity="0.85"/>
<g fill="#c8c0d8" stroke="#222" stroke-width="1.2">
<circle cx="105" cy="1253" r="10"/><circle cx="130" cy="1253" r="10"/>
<circle cx="80" cy="1279" r="10"/><circle cx="105" cy="1279" r="10"/><circle cx="130" cy="1279" r="10"/><circle cx="155" cy="1279" r="10"/><circle cx="180" cy="1279" r="10"/>
<circle cx="55" cy="1305" r="10"/><circle cx="80" cy="1305" r="10"/><circle cx="105" cy="1305" r="10"/><circle cx="130" cy="1305" r="10"/><circle cx="155" cy="1305" r="10"/><circle cx="180" cy="1305" r="10"/>
<circle cx="55" cy="1331" r="10"/><circle cx="80" cy="1331" r="10"/><circle cx="105" cy="1331" r="10"/><circle cx="130" cy="1331" r="10"/><circle cx="155" cy="1331" r="10"/><circle cx="180" cy="1331" r="10"/><circle cx="205" cy="1331" r="10"/>
<circle cx="80" cy="1357" r="10"/><circle cx="105" cy="1357" r="10"/><circle cx="130" cy="1357" r="10"/><circle cx="155" cy="1357" r="10"/><circle cx="180" cy="1357" r="10"/>
<circle cx="80" cy="1383" r="10"/><circle cx="105" cy="1383" r="10"/><circle cx="130" cy="1383" r="10"/>
<circle cx="105" cy="1409" r="10"/>
</g>
<text x="111" y="1448" font-size="20" font-weight="bold" text-anchor="middle">Spatial data</text>
<line x1="266" y1="1348" x2="302" y2="1348" stroke="#000" stroke-width="2.5" marker-end="url(#ahb)"/>
<text x="281" y="1387" font-size="19" font-weight="bold" text-anchor="middle">Gene</text>
<text x="281" y="1410" font-size="19" font-weight="bold" text-anchor="middle">expression</text>
</svg>
</body></html>
